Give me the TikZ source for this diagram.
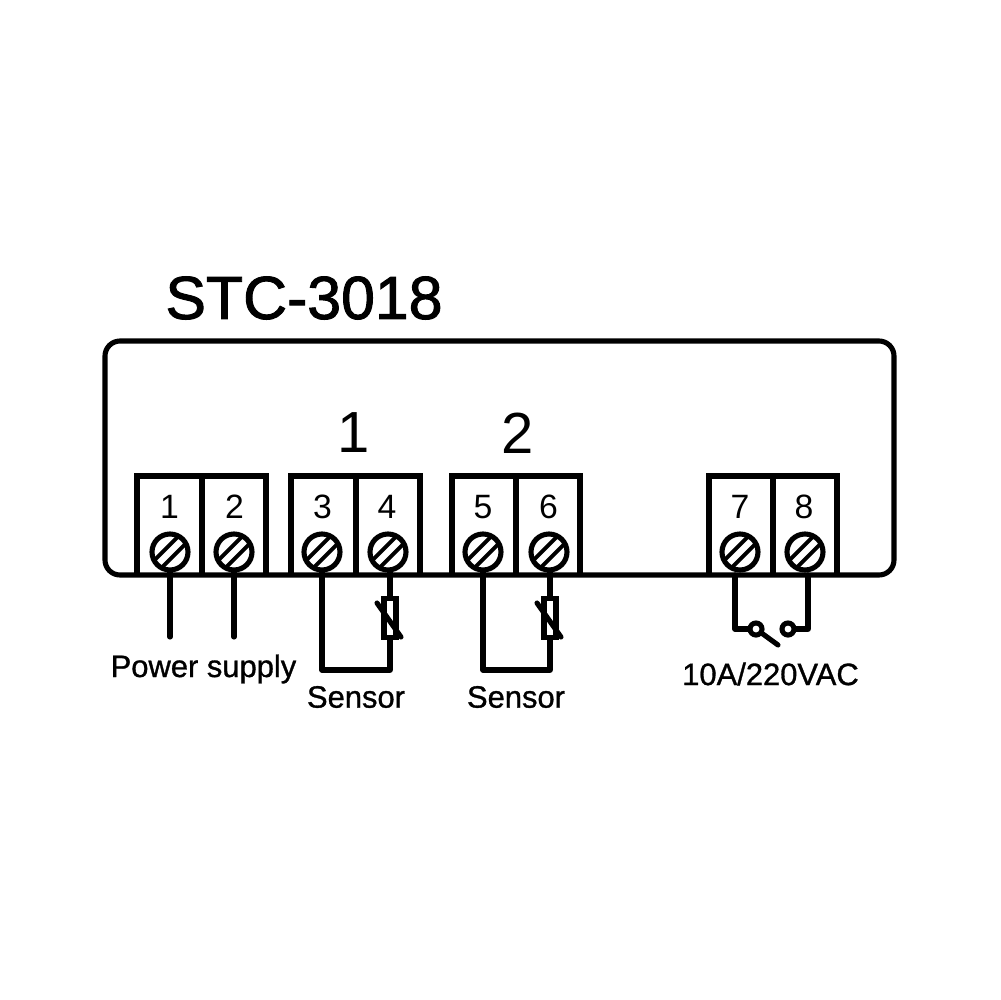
\documentclass[tikz,border=0pt]{standalone}
\usepackage{fontspec}
\setmainfont{Liberation Sans}
\newfontfamily\heavyfont[FakeBold=1.0]{Liberation Sans}
\newfontfamily\titlefont[FakeBold=1.6]{Liberation Sans}
\usetikzlibrary{positioning}
\setlength{\unitlength}{0.1mm}
\tikzset{
  wire/.style={line width=1.45pt,line cap=round,line join=round},
  block/.style={line width=1.45pt,line cap=butt,line join=miter},
  screw/.style={circle,draw,line width=1.45pt,fill=white,minimum size=36\unitlength,inner sep=0pt,
    path picture={
      \foreach \k in {-3.7,3.7}
        \draw[line width=1.1pt] ([xshift=\k*0.1mm,yshift=-\k*0.1mm]path picture bounding box.south west) -- ([xshift=\k*0.1mm,yshift=-\k*0.1mm]path picture bounding box.north east);
    }},
  lbl/.style={inner sep=0pt,font=\heavyfont\fontsize{8.8pt}{10pt}\selectfont},
  num/.style={inner sep=0pt,font=\fontsize{9.6pt}{11pt}\selectfont},
  big/.style={inner sep=0pt,font=\fontsize{16.5pt}{18pt}\selectfont},
  res/.style={rectangle,draw,line width=1.45pt,fill=white,minimum width=12\unitlength,minimum height=39\unitlength,inner sep=0pt},
  contact/.style={circle,draw,line width=1.45pt,fill=white,minimum size=12\unitlength,inner sep=0pt}
}
\begin{document}
\begin{tikzpicture}[x=0.1mm,y=-0.1mm]
\useasboundingbox (0,0) rectangle (1000,1000);
% housing
\draw[wire,rounded corners=1.5mm] (105,341) rectangle (894,575);
% terminal blocks
\foreach \xa/\xb/\xc in {137/202/266,291/356/420,452/516/580,709/773/837}{
  \draw[block] (\xa,575) -- (\xa,476) -- (\xc,476) -- (\xc,575);
  \draw[block] (\xb,476) -- (\xb,575);
}
% numbers and screws
\foreach \n/\x/\sx in {1/169.5/170,2/234.5/234,3/322.5/322,4/387/388,5/483/483,6/548.5/549,7/740/740,8/804/805}{
  \node[num] (N\n) at (\x,507) {\n};
  \node[screw] (S\n) at (\sx,552) {};
}
% headings
\node[inner sep=0pt,font=\titlefont\fontsize{17.3pt}{19pt}\selectfont] (title) at (304,298) {STC-3018};
\node[big] (G1) at (354,433) {1};
\node[big] (G2) at (518,433) {2};
% power supply
\coordinate (P1) at (170,637);
\coordinate (P2) at (234,637);
\draw[wire] (S1.south) -- (P1);
\draw[wire] (S2.south) -- (P2);
\node[lbl] (power) at (203.5,669) {Power supply};
% sensors
\node[res] (R1) at (390,618) {};
\node[res] (R2) at (550,618) {};
\coordinate (A1) at (322,670);
\coordinate (B1) at (390,670);
\coordinate (A2) at (482,670);
\coordinate (B2) at (550,670);
\draw[wire] (S3.south) -- (S3.south |- A1) -- (B1) -- (R1.south);
\draw[wire] (R1.north) -- (R1.north |- S4.south);
\draw[wire] (S5.south) -- (S5.south |- A2) -- (B2) -- (R2.south);
\draw[wire] (R2.north) -- (R2.north |- S6.south);
\draw[wire] (377,603) -- (401,637);
\draw[wire] (537,603) -- (561,637);
\node[lbl] (sensorA) at (356,697) {Sensor};
\node[lbl] (sensorB) at (516,697) {Sensor};
% relay contact
\node[contact] (C1) at (756,629) {};
\node[contact] (C2) at (788,629) {};
\coordinate (K1) at (735,575);
\coordinate (K2) at (735,629);
\coordinate (K3) at (808,629);
\coordinate (K4) at (808,575);
\coordinate (blade) at (778,645);
\draw[wire] (K1) -- (K2) -- (C1);
\draw[wire] (C2) -- (K3) -- (K4);
\draw[wire] (C1) -- (blade);
\node[lbl] (rating) at (770.5,674) {10A/220VAC};
\end{tikzpicture}
\end{document}
